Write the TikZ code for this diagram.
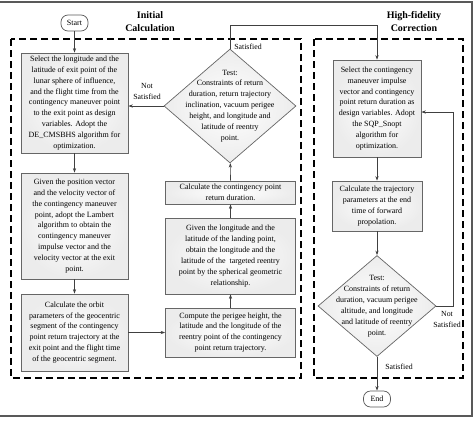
\documentclass[tikz,border=0pt]{standalone}
\usepackage{fontspec}
\setmainfont{Liberation Serif}
\usetikzlibrary{shapes.geometric,arrows.meta}
\begin{document}
\begin{tikzpicture}[x=1pt,y=-1pt,
 every node/.style={font=\fontsize{8}{10.9}\selectfont, text=black},
 proc/.style={draw=gray!80!black, line width=0.7pt, inner color=white, outer color=gray!15, align=center, inner sep=1pt},
 dec/.style={diamond, draw=gray!80!black, line width=0.7pt, inner color=white, outer color=gray!15, inner sep=0pt},
 dectext/.style={align=center, inner sep=0pt},
 term/.style={draw=gray!70!black, rounded corners=7pt, line width=0.7pt, minimum width=27pt, minimum height=16pt, inner sep=1pt},
 flow/.style={draw=gray!50!black, line width=0.7pt, -{Stealth[length=4.5pt,width=3.2pt]}},
 grp/.style={draw=black, line width=1.5pt, dash pattern=on 7pt off 4pt},
 head/.style={font=\fontsize{10}{13}\selectfont\bfseries, align=center},
 lbl/.style={font=\fontsize{7.8}{11}\selectfont, align=center, inner sep=0pt}]

\useasboundingbox (0,0) rectangle (474,434);
\draw[gray!70!black, line width=1.3pt] (-5,2) -- (472,2) -- (472,416) -- (-5,416);

% group frames
\draw[grp] (11,39) rectangle (301,378);
\draw[grp] (314,39) rectangle (463,378);

\node[head] (hL) at (150,21.5) {Initial\\Calculation};
\node[head] (hR) at (414,21.5) {High-fidelity\\Correction};

% terminals
\node[term] (start) at (74.5,23) {Start};
\node[term] (end) at (377,399) {End};

% left column
\node[proc, minimum width=107pt, minimum height=100pt] (b1) at (74.5,103) {Select the longitude and the\\latitude of exit point of the\\lunar sphere of influence,\\and the flight time from the\\contingency maneuver point\\to the exit point as design\\variables. Adopt the\\DE\_CMSBHS algorithm for\\optimization.};
\node[proc, minimum width=107pt, minimum height=106pt] (b2) at (74.5,226) {Given the position vector\\and the velocity vector of\\the contingency maneuver\\point, adopt the Lambert\\algorithm to obtain the\\contingency maneuver\\impulse vector and the\\velocity vector at the exit\\point.};
\node[proc, minimum width=107pt, minimum height=77pt] (b3) at (74.5,332.5) {Calculate the orbit\\parameters of the geocentric\\segment of the contingency\\point return trajectory at the\\exit point and the flight time\\of the geocentric segment.};

% middle column
\node[proc, minimum width=130pt, minimum height=49pt] (b6) at (230.5,332.5) {Compute the perigee height, the\\latitude and the longitude of the\\reentry point of the contingency\\point return trajectory.};
\node[proc, minimum width=130pt, minimum height=76pt] (b5) at (230.5,256) {Given the longitude and the\\latitude of the landing point,\\obtain the longitude and the\\latitude of the\ \ targeted reentry\\point by the spherical geometric\\relationship.};
\node[proc, minimum width=130pt, minimum height=23pt] (b4) at (230.5,192.5) {Calculate the contingency point\\return duration.};
\node[dec, minimum width=132pt, minimum height=114pt] (d1) at (230,106) {};
\node[dectext] (t1) at (d1.center) {Test:\\Constraints of return\\duration, return trajectory\\inclination, vacuum perigee\\height, and longitude and\\latitude of reentry\\point.};

% right column
\node[proc, minimum width=88pt, minimum height=97pt] (r1) at (377,108.5) {Select the contingency\\maneuver impulse\\vector and contingency\\point return duration as\\design variables. Adopt\\the SQP\_Snopt\\algorithm for\\optimization.};
\node[proc, minimum width=90pt, minimum height=50pt] (r2) at (377,206) {Calculate the trajectory\\parameters at the end\\time of forward\\propolation.};
\node[dec, minimum width=118pt, minimum height=101pt] (d2) at (377,306) {};
\node[dectext] (t2) at (d2.center) {Test:\\Constraints of return\\duration, vacuum perigee\\altitude, and longitude\\and latitude of reentry\\point.};

% connectors left
\draw[flow] (start) -- (b1);
\draw[flow] (b1) -- (b2);
\draw[flow] (b2) -- (b3);
\draw[flow] (b3.east) -- (b6.west);
\draw[flow] (b6) -- (b5);
\draw[flow] (b5) -- (b4);
\draw[flow] (b4) -- (d1);
\draw[flow] (d1.west) -- (d1.west -| b1.east);
\coordinate (c1) at (230,25);
\coordinate (c2) at (377,25);
\draw[flow] (d1.north) -- (c1) -- (c2) -- (r1.north);

% connectors right
\draw[flow] (r1) -- (r2);
\draw[flow] (r2) -- (d2);
\draw[flow] (d2) -- (end);
\coordinate (c3) at (453,306);
\coordinate (c4) at (453,112);
\draw[flow] (d2.east) -- (c3) -- (c4) -- (c4 -| r1.east);

% labels
\node[lbl] (ls1) at (248,47) {Satisfied};
\node[lbl] (ln1) at (147,91.5) {Not\\Satisfied};
\node[lbl] (ln2) at (447,319) {Not\\Satisfied};
\node[lbl] (ls2) at (399,367) {Satisfied};
\end{tikzpicture}
\end{document}
